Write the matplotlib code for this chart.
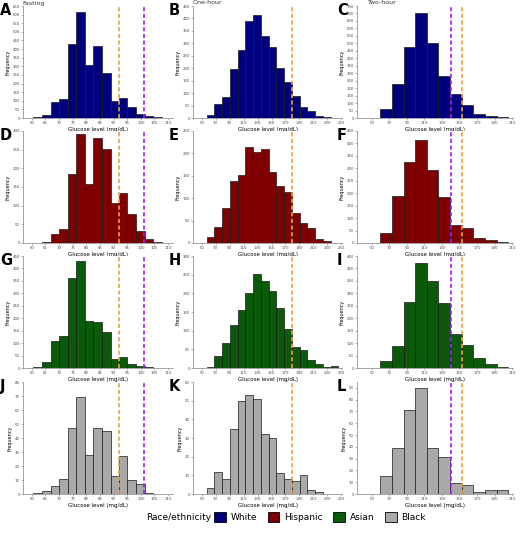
import numpy as np
import matplotlib
matplotlib.use("Agg")
import matplotlib.pyplot as plt
from matplotlib.patches import Patch

# Bin edges (mg/dL) per test
fasting_edges = [60.6, 63.7, 66.9, 70.0, 73.2, 76.3, 79.4, 82.6, 85.7, 88.9,
                 92.0, 95.1, 98.3, 101.4, 104.6, 107.7]
onehour_edges = [57.0, 68.1, 79.2, 90.3, 101.4, 112.5, 123.6, 134.7, 145.8,
                 156.9, 168.0, 179.1, 190.2, 201.3, 212.4, 223.5, 234.6, 245.7]
twohour_edges = [59.7, 73.0, 86.2, 99.5, 112.7, 126.0, 139.2, 152.5, 165.7,
                 179.0, 192.2, 205.5]

# Counts per bin
fasting_white = [3, 15, 93, 110, 432, 615, 306, 415, 262, 99, 116, 64, 25, 14, 5]
fasting_hispanic = [0, 4, 25, 37, 185, 292, 159, 281, 253, 106, 135, 77, 31, 10, 2]
fasting_asian = [3, 23, 107, 129, 363, 429, 189, 184, 143, 36, 43, 16, 7, 3, 0]
fasting_black = [1, 2, 6, 11, 47, 69, 28, 47, 45, 13, 27, 10, 7, 1, 0]

onehour_white = [11, 56, 83, 198, 273, 389, 414, 331, 284, 202, 143, 90, 44, 27, 8, 4, 1]
onehour_hispanic = [13, 36, 79, 139, 151, 214, 203, 209, 159, 127, 114, 66, 45, 34, 9, 5, 1]
onehour_asian = [3, 33, 67, 115, 156, 200, 251, 232, 207, 161, 105, 56, 47, 22, 11, 4, 5]
onehour_black = [3, 12, 8, 35, 50, 53, 51, 32, 30, 11, 8, 7, 10, 2, 1, 0, 0]

twohour_white = [60, 227, 475, 706, 500, 278, 164, 84, 29, 12, 5]
twohour_hispanic = [39, 189, 327, 413, 292, 183, 73, 60, 20, 11, 3]
twohour_asian = [29, 89, 267, 423, 349, 260, 137, 91, 40, 17, 5]
twohour_black = [15, 39, 71, 90, 39, 31, 9, 8, 2, 3, 3]

# Diagnostic cut-offs (mg/dL): orange = IADPSG, purple = NICE
orange_cut = [92, 180, 153]
purple_cut = [101, None, 140]

groups = ["White", "Hispanic", "Asian", "Black"]
colors = ["#00007f", "#7f0000", "#0a5a0a", "#a9a9a9"]
col_titles = ["Fasting", "One-hour", "Two-hour"]
letters = ["A", "B", "C", "D", "E", "F", "G", "H", "I", "J", "K", "L"]

edges_by_col = [fasting_edges, onehour_edges, twohour_edges]
counts = [
    [fasting_white, onehour_white, twohour_white],
    [fasting_hispanic, onehour_hispanic, twohour_hispanic],
    [fasting_asian, onehour_asian, twohour_asian],
    [fasting_black, onehour_black, twohour_black],
]
xlims = [(56.8, 111.8), (37.5, 251), (33.2, 211)]
xticks = [np.arange(60, 111, 5), np.arange(50, 251, 20), np.arange(50, 211, 20)]
ymax = [[650, 450, 750], [300, 250, 450], [450, 300, 450], [80, 60, 95]]
ystep = [50, 50, 50, 10]

W, H = 520, 533
col_px = [(23, 173), (193, 342), (357, 513)]
row_px = [(6, 118), (131, 243), (256, 368), (382, 494)]
letter_x = [0, 169, 337]

fig = plt.figure(figsize=(5.2, 5.33), dpi=100)

for r in range(4):
    for c in range(3):
        x0, x1 = col_px[c]
        y0, y1 = row_px[r]
        ax = fig.add_axes([x0 / W, 1 - y1 / H, (x1 - x0) / W, (y1 - y0) / H])
        e = np.array(edges_by_col[c])
        n = np.array(counts[r][c])
        keep = n > 0
        ax.bar(e[:-1][keep], n[keep], width=np.diff(e)[keep], align="edge",
               color=colors[r], edgecolor="#1a1a1a", linewidth=0.5)
        ax.axvline(orange_cut[c], color="#f0a040", lw=1.2, ls=(0, (2.5, 1.5)))
        if purple_cut[c] is not None:
            ax.axvline(purple_cut[c], color="#a020f0", lw=1.2, ls=(0, (2.5, 1.5)))
        ax.set_xlim(*xlims[c])
        ax.set_ylim(0, ymax[r][c])
        ax.set_xticks(xticks[c])
        ax.set_yticks(np.arange(0, ymax[r][c] + 1, ystep[r]))
        for s in ["top", "right"]:
            ax.spines[s].set_visible(False)
        for s in ["left", "bottom"]:
            ax.spines[s].set_color("#808080")
            ax.spines[s].set_linewidth(0.5)
        ax.tick_params(length=1.2, width=0.4, color="#808080", pad=1,
                       labelsize=2.8, labelcolor="#4d4d4d")
        ax.set_xlabel("Glucose level (mg/dL)", fontsize=4, labelpad=1.5)
        ax.set_ylabel("Frequency", fontsize=3.5, labelpad=1.5)
        fig.text(letter_x[c] / W, 1 - (y0 - 3) / H, letters[r * 3 + c],
                 fontsize=10.5, fontweight="bold", va="top", ha="left")
        if r == 0:
            tx = [22, 193, 368][c]
            fig.text(tx / W, 1 - 0.5 / H, col_titles[c], fontsize=4.5,
                     va="top", ha="left", color="#333333")

# Legend
fig.text(146 / W, 16 / H, "Race/ethnicity", fontsize=6.5, va="center", ha="left")
handles = [Patch(facecolor=col, edgecolor="black", linewidth=0.6) for col in colors]
fig.legend(handles, groups, loc="center", bbox_to_anchor=(320 / W, 16 / H),
           ncol=4, frameon=False, fontsize=6.5, handlelength=1.3,
           handleheight=1.3, columnspacing=1.2, handletextpad=0.5)

fig.savefig("out.png", dpi=100)
